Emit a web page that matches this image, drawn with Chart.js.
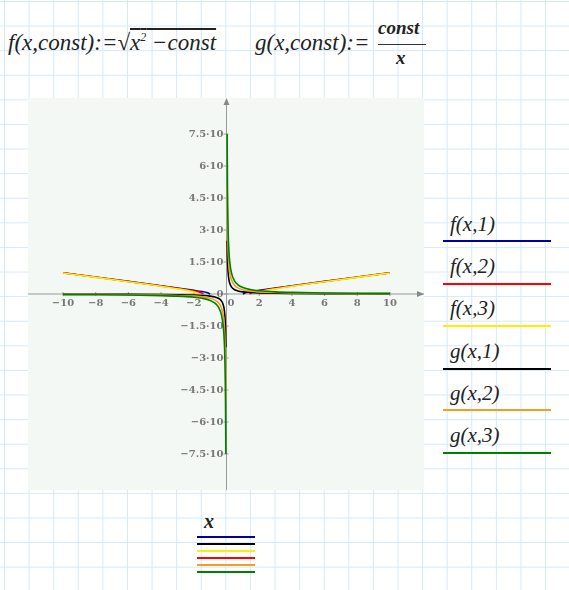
<!DOCTYPE html>
<html><head><meta charset="utf-8">
<script src="https://cdn.jsdelivr.net/npm/chart.js@4"></script>
<style>
body{margin:0;width:569px;height:590px;position:relative;overflow:hidden;background-color:#fff;
background-image:linear-gradient(#d6e8f8 1px,transparent 1px),linear-gradient(90deg,#d6e8f8 1px,transparent 1px);
background-size:24.6px 24.6px;background-position:4px 1px;}
.t{position:absolute;font-family:"Liberation Serif",serif;font-style:italic;font-size:23px;color:#222;white-space:nowrap}
#box{position:absolute;left:28px;top:98px;width:396px;height:392px;background:#f4f8f4}
.lg{position:absolute;left:443px;width:108px;height:2px}
.bl{position:absolute;left:197px;width:58px;height:2px}
</style></head><body>
<div class="t" style="left:8px;top:30px">f(x,const):=√<span style="text-decoration:overline">x<sup style="font-size:12px">2</sup> −const</span></div>
<div class="t" style="left:255px;top:30px">g(x,const):=</div>
<div class="t" style="left:378px;top:17px;font-size:19px;font-weight:bold">const</div>
<div style="position:absolute;left:378px;top:44px;width:48px;border-top:1px solid #333"></div>
<div class="t" style="left:396px;top:47px;font-size:19px;font-weight:bold">x</div>
<div id="box"><canvas id="c" width="396" height="392"></canvas></div>
<div class="t" style="left:450px;top:212px;font-size:21px">f(x,1)</div><div class="lg" style="top:240px;background:#0000a0"></div>
<div class="t" style="left:450px;top:254px;font-size:21px">f(x,2)</div><div class="lg" style="top:283px;background:#ff0000"></div>
<div class="t" style="left:450px;top:296px;font-size:21px">f(x,3)</div><div class="lg" style="top:325px;background:#ffee00"></div>
<div class="t" style="left:450px;top:339px;font-size:21px">g(x,1)</div><div class="lg" style="top:368px;background:#000"></div>
<div class="t" style="left:450px;top:381px;font-size:21px">g(x,2)</div><div class="lg" style="top:409px;background:#f0a020"></div>
<div class="t" style="left:450px;top:423px;font-size:21px">g(x,3)</div><div class="lg" style="top:452px;background:#008000"></div>
<div class="t" style="left:204px;top:510px;font-size:20px;font-weight:bold">x</div>
<div class="bl" style="top:536px;background:#0000a0"></div>
<div class="bl" style="top:543px;background:#000"></div>
<div class="bl" style="top:550px;background:#ffee00"></div>
<div class="bl" style="top:557px;background:#ff0000"></div>
<div class="bl" style="top:564px;background:#f0a020"></div>
<div class="bl" style="top:571px;background:#008000"></div>
<script>
const gx=[0.04,0.06,0.1,0.15,0.2,0.3,0.5,0.7,1,1.5,2,3,4,6,8,10];
const g1=[25,16.67,10,6.67,5,3.33,2,1.43,1,0.67,0.5,0.33,0.25,0.167,0.125,0.1];
const g2=[50,33.3,20,13.3,10,6.67,4,2.86,2,1.33,1,0.67,0.5,0.33,0.25,0.2];
const g3=[75,50,30,20,15,10,6,4.29,3,2,1.5,1,0.75,0.5,0.375,0.3];
const f1x=[1,1.2,1.5,2,3,4,6,8,10], f1=[0,0.66,1.12,1.73,2.83,3.87,5.92,7.94,9.95];
const f2x=[1.414,1.6,2,3,4,6,8,10], f2=[0,0.75,1.41,2.65,3.74,5.83,7.87,9.90];
const f3x=[1.732,1.9,2,3,4,6,8,10], f3=[0,0.78,1,2.45,3.61,5.74,7.81,9.85];
const xTicks=[-10,-8,-6,-4,-2,0,2,4,6,8,10];
const yTicks=[-75,-60,-45,-30,-15,0,15,30,45,60,75];
const yLabels=["−7.5·10","−6·10","−4.5·10","−3·10","−1.5·10","0","1.5·10","3·10","4.5·10","6·10","7.5·10"];
function odd(xs,ys){const n=xs.map((x,i)=>({x:-x,y:-ys[i]})).reverse();return n.concat([{x:0,y:null}],xs.map((x,i)=>({x,y:ys[i]})));}
function even(xs,ys){const n=xs.map((x,i)=>({x:-x,y:ys[i]})).reverse();return n.concat([{x:0,y:null}],xs.map((x,i)=>({x,y:ys[i]})));}
const ds=(d,c,o)=>({data:d,borderColor:c,borderWidth:1.6,pointRadius:0,showLine:true,spanGaps:false,cubicInterpolationMode:'monotone',order:o});
const axes={id:'axes',beforeDatasetsDraw(ch){const c=ch.ctx,xs=ch.scales.x,ys=ch.scales.y;const x0=xs.getPixelForValue(0),y0=ys.getPixelForValue(0);
c.save();c.strokeStyle='#999';c.fillStyle='#888';c.lineWidth=1;
c.beginPath();c.moveTo(0,y0);c.lineTo(396,y0);c.moveTo(x0,4);c.lineTo(x0,392);c.stroke();
c.beginPath();c.moveTo(x0,0);c.lineTo(x0-3,7);c.lineTo(x0+3,7);c.fill();
c.beginPath();c.moveTo(396,y0);c.lineTo(389,y0-3);c.lineTo(389,y0+3);c.fill();
c.font='bold 10px "DejaVu Serif"';c.fillStyle='#777';
xTicks.forEach(t=>{const p=xs.getPixelForValue(t);c.beginPath();c.moveTo(p,y0-2);c.lineTo(p,y0+2);c.stroke();
c.textAlign='center';c.textBaseline='top';if(t!==0)c.fillText(t<0?'−'+(-t):String(t),p,y0+4);else{c.textAlign='left';c.fillText('0',p+1,y0+4);}});
yTicks.forEach((t,i)=>{const p=ys.getPixelForValue(t);c.beginPath();c.moveTo(x0-3,p);c.lineTo(x0+2,p);c.stroke();
c.textAlign='right';c.textBaseline='middle';c.fillText(yLabels[i],x0-3,p);});
c.restore();}};
new Chart(document.getElementById('c'),{type:'scatter',data:{datasets:[
ds(even(f1x,f1),'#0000a0',5),ds(even(f2x,f2),'#ff0000',4),ds(even(f3x,f3),'#ffee00',3),
ds(odd(gx,g1),'#000',2),ds(odd(gx,g2),'#f0a020',1),ds(odd(gx,g3),'#008000',0)]},
options:{responsive:false,animation:false,layout:{padding:0},plugins:{legend:{display:false},tooltip:{enabled:false}},
scales:{x:{type:'linear',min:-12.14,max:12.08,display:false},y:{type:'linear',min:-91.9,max:91.9,display:false}}},plugins:[axes]});
</script></body></html>
